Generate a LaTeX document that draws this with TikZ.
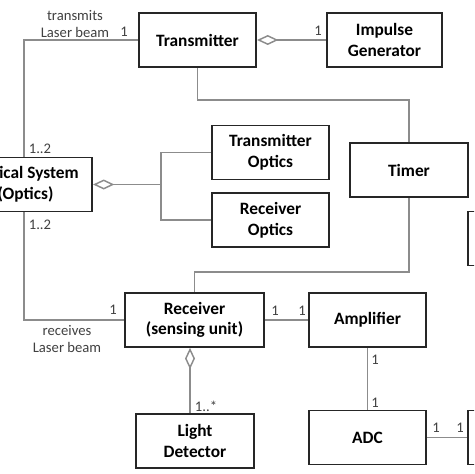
\documentclass[tikz,border=0pt]{standalone}
\usepackage{fontspec}
\setmainfont{Carlito}
\usepackage{tikz}
\usetikzlibrary{arrows.meta,calc}

\begin{document}
\begin{tikzpicture}[x=0.75pt,y=0.75pt,yscale=-1,xscale=1,
    unit/.style={draw=black!85, line width=1.3pt, fill=white, align=center, inner sep=0pt,
        minimum width=88pt, minimum height=40.5pt, font=\bfseries\fontsize{13}{15.5}\selectfont},
    link/.style={draw=black!45, line width=1.1pt},
    agg/.style={link, {Diamond[open, length=16pt, width=7.5pt]}-},
    mult/.style={font=\fontsize{11}{13}\selectfont, text=black!75, inner sep=0pt, align=center}]
    \useasboundingbox (0,0) rectangle (474,474);
    \clip (0,0) rectangle (474,474);

    %Shape: Units
    \node[unit] (tx) at (197.5,40) {Transmitter};
    \node[unit, minimum width=86pt] (imp) at (384.5,40) {Impulse\\Generator};
    \node[unit, minimum width=100pt] (opt) at (25.5,184.5) {Optical System\\(Optics)};
    \node[unit] (txo) at (270.5,152.5) {Transmitter\\Optics};
    \node[unit] (rxo) at (270.5,220) {Receiver\\Optics};
    \node[unit] (tm) at (409,170) {Timer};
    \node[unit, minimum width=104pt] (rx) at (194.5,320) {Receiver\\(sensing unit)};
    \node[unit] (amp) at (367.5,320) {Amplifier};
    \node[unit] (adc) at (367.5,437.5) {ADC};
    \node[unit] (ld) at (195,441) {Light\\Detector};
    \node[unit] (nxt) at (526.5,437.5) {};
    \node[unit] (aux) at (526.5,238.5) {};

    %Coordinate
    \coordinate (lft) at (24,0);
    \coordinate (topbus) at (0,100);
    \coordinate (midbus) at (0,272);
    \coordinate (fork) at (161,184.5);
    \coordinate (drop) at (190,0);

    %Connectors
    \draw[link] (tx.west) -| (lft |- opt.north);
    \draw[link] (lft |- opt.south) |- (rx.west);
    \draw[agg] (tx.east) -- (imp.west);
    \draw[link] (tx.south) |- (tm.north |- topbus) -- (tm.north);
    \draw[link] (tm.south) -- (tm.south |- midbus) -| (rx.north);
    \draw[agg] (opt.east) -- (fork);
    \draw[link] (txo.west) -| (fork) |- (rxo.west);
    \draw[link] (rx.east) -- (amp.west);
    \draw[link] (amp.south) -- (adc.north);
    \draw[link] (adc.east) -- (nxt.west);
    \draw[agg] (drop |- rx.south) -- (drop |- ld.north);

    %Multiplicities
    \node[mult] (ttx) at (75,24) {transmits\\Laser beam};
    \node[mult] (m1) at (124,32) {1};
    \node[mult] (m2) at (318,31) {1};
    \node[mult] (m3) at (40,149) {1..2};
    \node[mult] (m4) at (40,225) {1..2};
    \node[mult] (m5) at (113,310) {1};
    \node[mult] (trx) at (67,339) {receives\\Laser beam};
    \node[mult] (m6) at (275,311) {1};
    \node[mult] (m7) at (302,311) {1};
    \node[mult] (m8) at (375,360) {1};
    \node[mult] (m9) at (375,403) {1};
    \node[mult] (m10) at (206,406) {1..*};
    \node[mult] (m11) at (436,428) {1};
    \node[mult] (m12) at (460,428) {1};
\end{tikzpicture}
\end{document}
